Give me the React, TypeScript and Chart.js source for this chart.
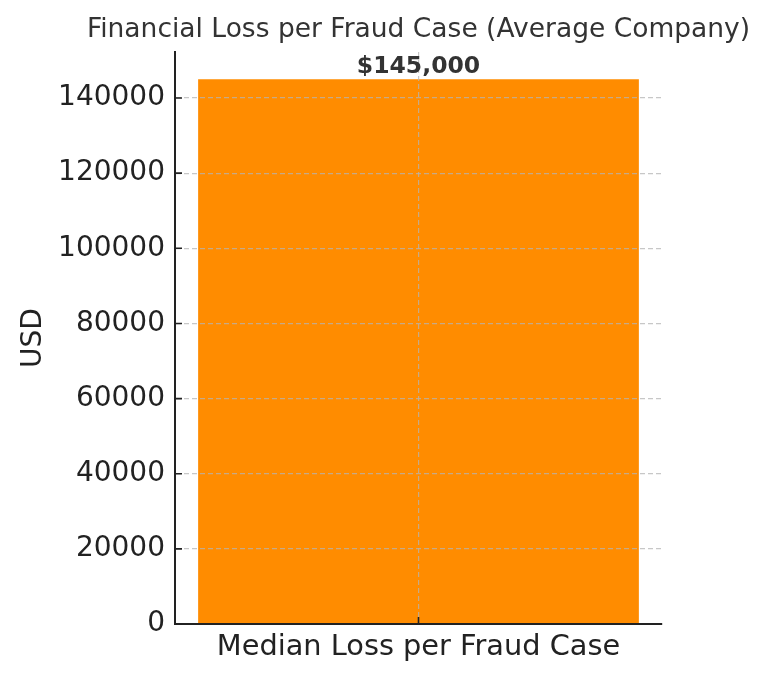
import { useEffect, useRef } from "react"
import { Chart, type ChartConfiguration, type Plugin, registerables } from "chart.js"

Chart.register(...registerables)

const chartTitle = "Financial Loss per Fraud Case (Average Company)"
const categories = ["Median Loss per Fraud Case"]
const lossValues = [145000]
const yTicks = [0, 20000, 40000, 60000, 80000, 100000, 120000, 140000]
const yMax = 152250

const FONT = "'DejaVu Sans', sans-serif"

// title centred over the plot area, like matplotlib does
const plotTitle: Plugin<"bar"> = {
  id: "plotTitle",
  afterDraw(chart) {
    const { ctx, chartArea } = chart
    ctx.save()
    ctx.font = `26.5px ${FONT}`
    ctx.fillStyle = "#333333"
    ctx.textAlign = "center"
    ctx.textBaseline = "alphabetic"
    ctx.fillText(chartTitle, (chartArea.left + chartArea.right) / 2, 37)
    ctx.restore()
  },
}

// value label above each bar
const valueLabels: Plugin<"bar"> = {
  id: "valueLabels",
  afterDraw(chart) {
    const { ctx } = chart
    const meta = chart.getDatasetMeta(0)
    ctx.save()
    ctx.font = `bold 23.5px ${FONT}`
    ctx.fillStyle = "#333333"
    ctx.textAlign = "center"
    ctx.textBaseline = "alphabetic"
    meta.data.forEach((bar, i) => {
      const v = lossValues[i]
      ctx.fillText(`$${v.toLocaleString("en-US")}`, bar.x, bar.y - 6)
    })
    ctx.restore()
  },
}

// matplotlib style inward tick marks
const innerTicks: Plugin<"bar"> = {
  id: "innerTicks",
  afterDraw(chart) {
    const { ctx, chartArea } = chart
    const x = chart.scales.x
    const y = chart.scales.y
    ctx.save()
    ctx.strokeStyle = "#222222"
    ctx.lineWidth = 1.6
    ctx.beginPath()
    y.ticks.forEach((t) => {
      const py = y.getPixelForValue(t.value)
      ctx.moveTo(chartArea.left, py)
      ctx.lineTo(chartArea.left + 7, py)
    })
    categories.forEach((_, i) => {
      const px = x.getPixelForValue(i)
      ctx.moveTo(px, chartArea.bottom)
      ctx.lineTo(px, chartArea.bottom - 7)
    })
    ctx.stroke()
    ctx.restore()
  },
}

export default function App() {
  const canvasRef = useRef<HTMLCanvasElement>(null)
  const chartRef = useRef<Chart | null>(null)

  useEffect(() => {
    if (!canvasRef.current) return
    if (chartRef.current) chartRef.current.destroy()

    const config: ChartConfiguration<"bar"> = {
      type: "bar",
      data: {
        labels: categories,
        datasets: [
          {
            data: lossValues,
            backgroundColor: "#FF8C00",
            borderWidth: 0,
            categoryPercentage: 1,
            barPercentage: 0.905,
          },
        ],
      },
      options: {
        responsive: true,
        maintainAspectRatio: false,
        animation: false,
        layout: { padding: { left: 0, right: 106, top: 52, bottom: 0 } },
        plugins: {
          legend: { display: false },
          tooltip: { enabled: false },
          title: { display: false },
        },
        scales: {
          x: {
            z: 1,
            grid: {
              z: 1,
              offset: false,
              color: "rgba(180,180,180,0.75)",
              lineWidth: 1.2,
              drawTicks: false,
            },
            border: { z: 2, color: "#222222", width: 2, dash: [5, 3] },
            ticks: {
              color: "#222222",
              padding: 6,
              font: { family: FONT, size: 28.8 },
            },
            afterFit: (s) => {
              s.height = 55
            },
          },
          y: {
            z: 1,
            min: 0,
            max: yMax,
            afterBuildTicks: (s) => {
              s.ticks = yTicks.map((v) => ({ value: v }))
            },
            grid: {
              z: 1,
              color: "rgba(180,180,180,0.75)",
              lineWidth: 1.2,
              drawTicks: false,
            },
            border: { z: 2, color: "#222222", width: 2, dash: [5, 3] },
            ticks: {
              color: "#222222",
              padding: 10,
              includeBounds: false,
              font: { family: FONT, size: 28 },
              callback: (v) => String(v),
            },
            title: {
              display: true,
              text: "USD",
              color: "#222222",
              font: { family: FONT, size: 28 },
              padding: { top: 17 },
            },
            afterFit: (s) => {
              s.width = 175
            },
          },
        },
      },
      plugins: [plotTitle, valueLabels, innerTicks],
    }

    chartRef.current = new Chart(canvasRef.current, config)

    return () => {
      if (chartRef.current) {
        chartRef.current.destroy()
        chartRef.current = null
      }
    }
  }, [])

  return (
    <div style={{ position: "fixed", left: 0, top: 0, width: 768, height: 679, background: "#fff" }}>
      <canvas ref={canvasRef} />
    </div>
  )
}
